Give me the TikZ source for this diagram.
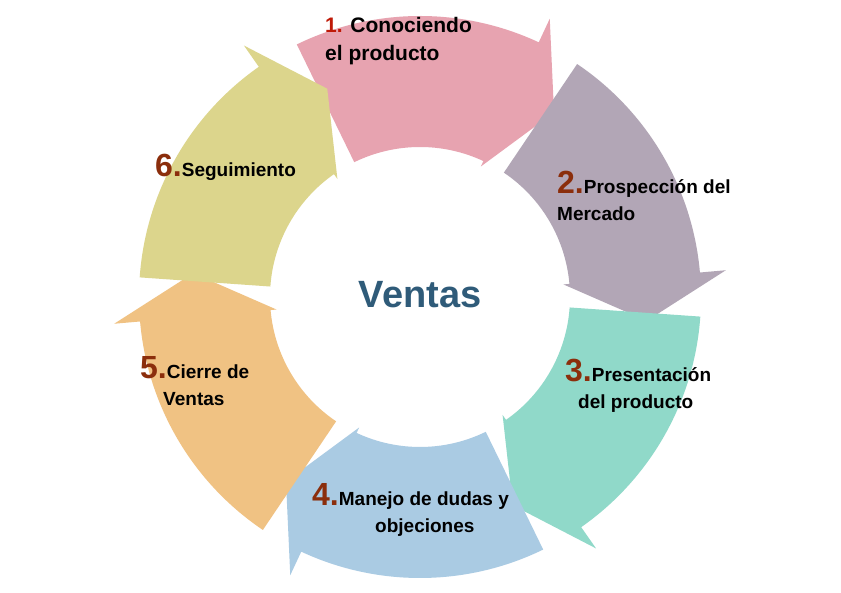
\documentclass[tikz,border=0pt]{standalone}
\usepackage{fontspec}
\setmainfont{Liberation Sans}
\definecolor{cpink}{HTML}{E7A3B0}
\definecolor{cgray}{HTML}{B2A6B6}
\definecolor{cteal}{HTML}{90D9C9}
\definecolor{cblue}{HTML}{AACBE3}
\definecolor{corange}{HTML}{F0C283}
\definecolor{cyellow}{HTML}{DCD58C}
\definecolor{numred}{HTML}{8B2E0C}
\definecolor{ventas}{HTML}{2F5B79}
\newcommand{\nb}[1]{{\fontsize{32}{27}\selectfont\color{numred}#1}}
\begin{document}
\begin{tikzpicture}[x=1pt,y=1pt,
  lbl/.style={font=\bfseries\fontsize{19}{27}\selectfont, align=left, anchor=west, inner sep=0pt}]
\useasboundingbox (0,0) rectangle (841,593);
\fill[white] (0,0) rectangle (841,593);
\def\Ri{150}\def\Ro{281}\def\Rm{228}
\begin{scope}[shift={(420,296)}]
\foreach \c/\col in {80/cpink,20/cgray,-40/cteal,-100/cblue,-160/corange,140/cyellow}{
  \fill[\col] (\c+36:\Ro) arc[start angle=\c+36, end angle=\c-15, radius=\Ro]
    -- (\c-15:\Ro+26) -- (\c-26:\Rm) -- (\c-15:\Ri-6) -- (\c-15:\Ri)
    arc[start angle=\c-15, end angle=\c+36, radius=\Ri] -- cycle;
}
\end{scope}
\node[font=\bfseries\fontsize{38}{38}\selectfont, text=ventas] (v) at (420,298) {Ventas};
\node[lbl, font=\bfseries\fontsize{21}{28}\selectfont] (l1) at (325,552) {{\color{numred!55!red}1.} Conociendo\\el producto};
\node[lbl] (l2) at (557,397) {\nb{2.}Prospección del\\Mercado};
\node[lbl] (l3) at (565,207) {\nb{3.}Presentación\\\hspace*{13pt}del producto};
\node[lbl] (l4) at (312,83) {\nb{4.}Manejo de dudas y\\\hspace*{63pt}objeciones};
\node[lbl] (l5) at (140,212) {\nb{5.}Cierre de\\\hspace*{23pt}Ventas};
\node[lbl] (l6) at (155,426) {\nb{6.}Seguimiento};
\end{tikzpicture}
\end{document}
